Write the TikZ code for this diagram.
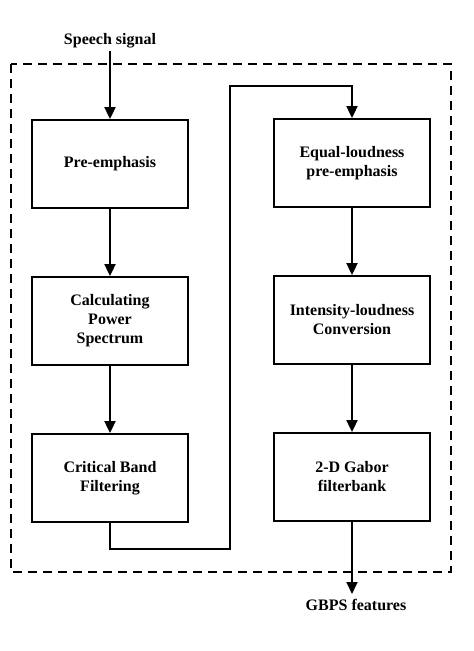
\documentclass[tikz,border=0pt]{standalone}
\usepackage{fontspec}
\setmainfont{Liberation Serif}
\usetikzlibrary{arrows.meta,positioning,calc}
\tikzstyle{block} =[rectangle, draw, line width=1.8pt,
                    minimum width=156pt, minimum height=88pt,
                    align=center, font=\fontsize{16}{19}\selectfont\bfseries]
\tikzstyle{flow}  =[draw, line width=1.8pt,
                    -{Triangle[length=12pt,width=11pt]}]
\tikzstyle{label} =[inner sep=2pt, fill=none, draw=none,
                    font=\fontsize{16}{19}\selectfont\bfseries]

\begin{document}
\begin{tikzpicture}[x=1pt, y=-1pt, node distance=157pt, on grid]
            \useasboundingbox (0,0) rectangle (474,651);
            % frame round the front end
            \draw[line width=1.5pt, dash pattern=on 9pt off 6pt]
                (11,64) rectangle (451,572);
            % left column
            \node (pre) [block] at (110,164) {Pre-emphasis};
            \node (power) [block, below= of pre] {Calculating\\Power\\Spectrum};
            \node (band) [block, below= of power] {Critical Band\\Filtering};
            % right column
            \node (equal) [block] at (352,163) {Equal-loudness\\pre-emphasis};
            \node (intens) [block, below= of equal] {Intensity-loudness\\Conversion};
            \node (gabor) [block, below= of intens] {2-D Gabor\\filterbank};
            % input and output
            \node (speech) [label] at (110,41) {Speech signal};
            \node (gbps) [label] at (356,605) {GBPS features};
            \coordinate (lowbend) at (230,549);
            \coordinate (highbend) at (230,86);
            \coordinate (outtip) at (352,594);
            \draw[flow] (speech) to (pre);
            \draw[flow] (pre) to (power);
            \draw[flow] (power) to (band);
            \draw[flow] (band.south) |- (lowbend) -- (highbend) -| (equal.north);
            \draw[flow] (equal) to (intens);
            \draw[flow] (intens) to (gabor);
            \draw[flow] (gabor.south) to (outtip);
        \end{tikzpicture}
\end{document}
